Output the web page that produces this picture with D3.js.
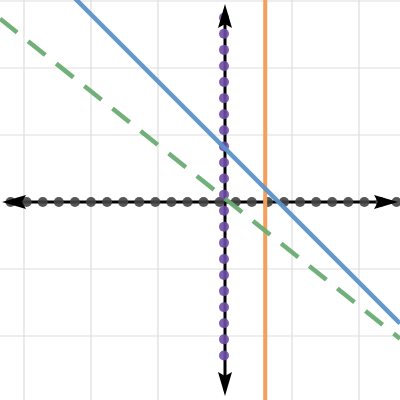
<!DOCTYPE html><html><head><script src="https://cdn.jsdelivr.net/npm/d3@7"></script>
<style>body{margin:0;background:#fff}</style></head><body><svg id="c" width="400" height="400"></svg>
<script>
const gridX=[-3,-2,-1,1,2];
const gridY=[3,2,1,-1,-2];
const xDots=[-3.2,-2.96,-2.72,-2.48,-2.24,-2.0,-1.76,-1.52,-1.28,-1.04,-0.8,-0.56,-0.32,-0.08,0.16,0.4,0.64,0.88,1.12,1.36,1.6,1.84,2.08,2.32,2.56];
const yDots=[2.75,2.51,2.27,2.03,1.79,1.55,1.31,1.07,0.83,0.59,0.35,0.11,-0.13,-0.37,-0.61,-0.85,-1.09,-1.33,-1.57,-1.81,-2.05,-2.29];
const orangeX=0.6;
const blue={m:-1,b:0.8};
const green={m:-0.8,b:0.05};
const x=d3.scaleLinear().domain([-225/67,175/67]).range([0,400]);
const y=d3.scaleLinear().domain([202/67,-198/67]).range([0,400]);
const s=d3.select("#c");
gridX.forEach(v=>s.append("line").attr("x1",x(v)).attr("x2",x(v)).attr("y1",0).attr("y2",400).attr("stroke","#ddd").attr("stroke-width",1.2));
gridY.forEach(v=>s.append("line").attr("y1",y(v)).attr("y2",y(v)).attr("x1",0).attr("x2",400).attr("stroke","#ddd").attr("stroke-width",1.2));
const [x0,x1]=x.domain();
// axes
s.append("line").attr("x1",x(x0)+10).attr("x2",x(x1)-10).attr("y1",y(0)).attr("y2",y(0)).attr("stroke","#000").attr("stroke-width",3);
s.append("line").attr("x1",x(0)).attr("x2",x(0)).attr("y1",y(y.domain()[0])+10).attr("y2",y(y.domain()[1])-10).attr("stroke","#000").attr("stroke-width",3);
s.selectAll(".xd").data(xDots).enter().append("circle").attr("cx",d=>x(d)).attr("cy",y(0)).attr("r",5).attr("fill","#444").attr("opacity",0.9);
s.selectAll(".yd").data(yDots).enter().append("circle").attr("cx",x(0)-1).attr("cy",d=>y(d)).attr("r",5).attr("fill","#6e4ea8").attr("opacity",0.9);
// arrowheads
const ax=x(0),ay=y(0);
const tri=(pts)=>s.append("polygon").attr("points",pts.map(p=>p.join(",")).join(" ")).attr("fill","#000");
tri([[2,ay],[26,ay-7],[22,ay],[26,ay+7]]);
tri([[398,ay],[374,ay-7],[378,ay],[374,ay+7]]);
tri([[ax,4],[ax-7,28],[ax,24],[ax+7,28]]);
tri([[ax,396],[ax-7,372],[ax,376],[ax+7,372]]);
// lines
s.append("line").attr("x1",x(orangeX)).attr("x2",x(orangeX)).attr("y1",0).attr("y2",400).attr("stroke","#f5a05a").attr("stroke-width",4);
s.append("line").attr("x1",x(x0)).attr("x2",x(x1)).attr("y1",y(blue.m*x0+blue.b)).attr("y2",y(blue.m*x1+blue.b)).attr("stroke","#5b93cc").attr("stroke-width",4.5).attr("opacity",0.95);
s.append("line").attr("x1",x(x0)).attr("x2",x(x1)).attr("y1",y(green.m*x0+green.b)).attr("y2",y(green.m*x1+green.b)).attr("stroke","#6aad72").attr("stroke-width",4.5).attr("stroke-dasharray","22,14").attr("opacity",0.95);
</script></body></html>
